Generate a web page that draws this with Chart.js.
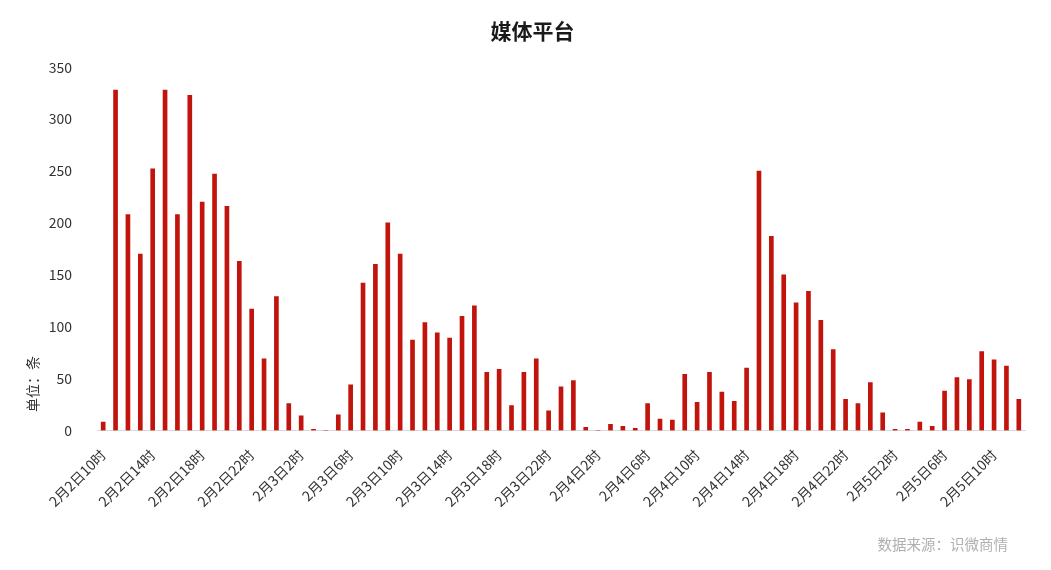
<!DOCTYPE html>
<html>
<head>
<meta charset="utf-8">
<script src="https://cdn.jsdelivr.net/npm/chart.js@4/dist/chart.umd.min.js"></script>
<style>
  html, body { margin: 0; background: #fff; }
  #wrap { width: 1051px; height: 570px; }
</style>
</head>
<body>
<div id="wrap"><canvas id="chart"></canvas></div>
<script>
// 每小时条数，从2月2日10时开始
const startDay = 2;
const startHour = 10;
const counts = [
  8, 328, 208, 170, 252, 328, 208, 323, 220, 247, 216, 163, 117, 69, 129, 26, 14, 1, 0,
  15, 44, 142, 160, 200, 170, 87, 104, 94, 89, 110, 120, 56, 59, 24, 56, 69, 19, 42, 48,
  3, 0, 6, 4, 2, 26, 11, 10, 54, 27, 56, 37, 28, 60, 250, 187, 150, 123, 134, 106, 78,
  30, 26, 46, 17, 1, 1, 8, 4, 38, 51, 49, 76, 68, 62, 30
];
const yTicks = [0, 50, 100, 150, 200, 250, 300, 350];

const labels = [];
for (let i = 0; i < counts.length; i++) {
  const h = startHour + i;
  labels.push('2月' + (startDay + Math.floor(h / 24)) + '日' + (h % 24) + '时');
}

const FONT = '"Noto Sans CJK SC", "Noto Sans", sans-serif';

// 纵轴单位和数据来源
const extraText = {
  id: 'extraText',
  afterDraw(chart) {
    const ctx = chart.ctx;
    ctx.save();
    ctx.fillStyle = '#333';
    ctx.font = '14px ' + FONT;
    ctx.textAlign = 'center';
    ctx.textBaseline = 'middle';
    ctx.translate(33, 384);
    ctx.rotate(-Math.PI / 2);
    ctx.fillText('单位：条', 0, 0);
    ctx.restore();

    ctx.save();
    ctx.fillStyle = '#b0b0b0';
    ctx.font = '14.5px ' + FONT;
    ctx.textAlign = 'right';
    ctx.textBaseline = 'middle';
    ctx.fillText('数据来源：识微商情', 1008, 544);
    ctx.restore();
  }
};

const mediaChart = new Chart(
  document.getElementById('chart'),
  {
    type: 'bar',
    data: {
      labels: labels,
      datasets: [{
        data: counts,
        backgroundColor: '#c0140c',
        barThickness: 4
      }]
    },
    options: {
      responsive: true,
      maintainAspectRatio: false,
      animation: false,
      layout: { padding: { top: 18, left: 40, right: 26, bottom: 52 } },
      plugins: {
        legend: { display: false },
        tooltip: { enabled: false },
        title: {
          display: true,
          text: '媒体平台',
          color: '#1a1a1a',
          font: { family: FONT, size: 21, weight: 'bold' },
          padding: { top: 0, bottom: 24 }
        }
      },
      scales: {
        x: {
          grid: { display: false },
          border: { color: '#d9d9d9', width: 1 },
          ticks: {
            autoSkip: false,
            maxRotation: 45,
            minRotation: 45,
            padding: 8,
            color: '#333',
            font: { family: FONT, size: 14 },
            callback: function(value, index) {
              return index % 4 === 0 ? labels[index] : '';
            }
          }
        },
        y: {
          min: 0,
          max: 350,
          afterFit: function(scale) { scale.width = 57; },
          afterBuildTicks: function(scale) {
            scale.ticks = yTicks.map(v => ({ value: v }));
          },
          grid: { display: false },
          border: { display: false },
          ticks: {
            padding: 17,
            color: '#333',
            font: { family: FONT, size: 14 }
          }
        }
      }
    },
    plugins: [extraText]
  }
);
</script>
</body>
</html>
